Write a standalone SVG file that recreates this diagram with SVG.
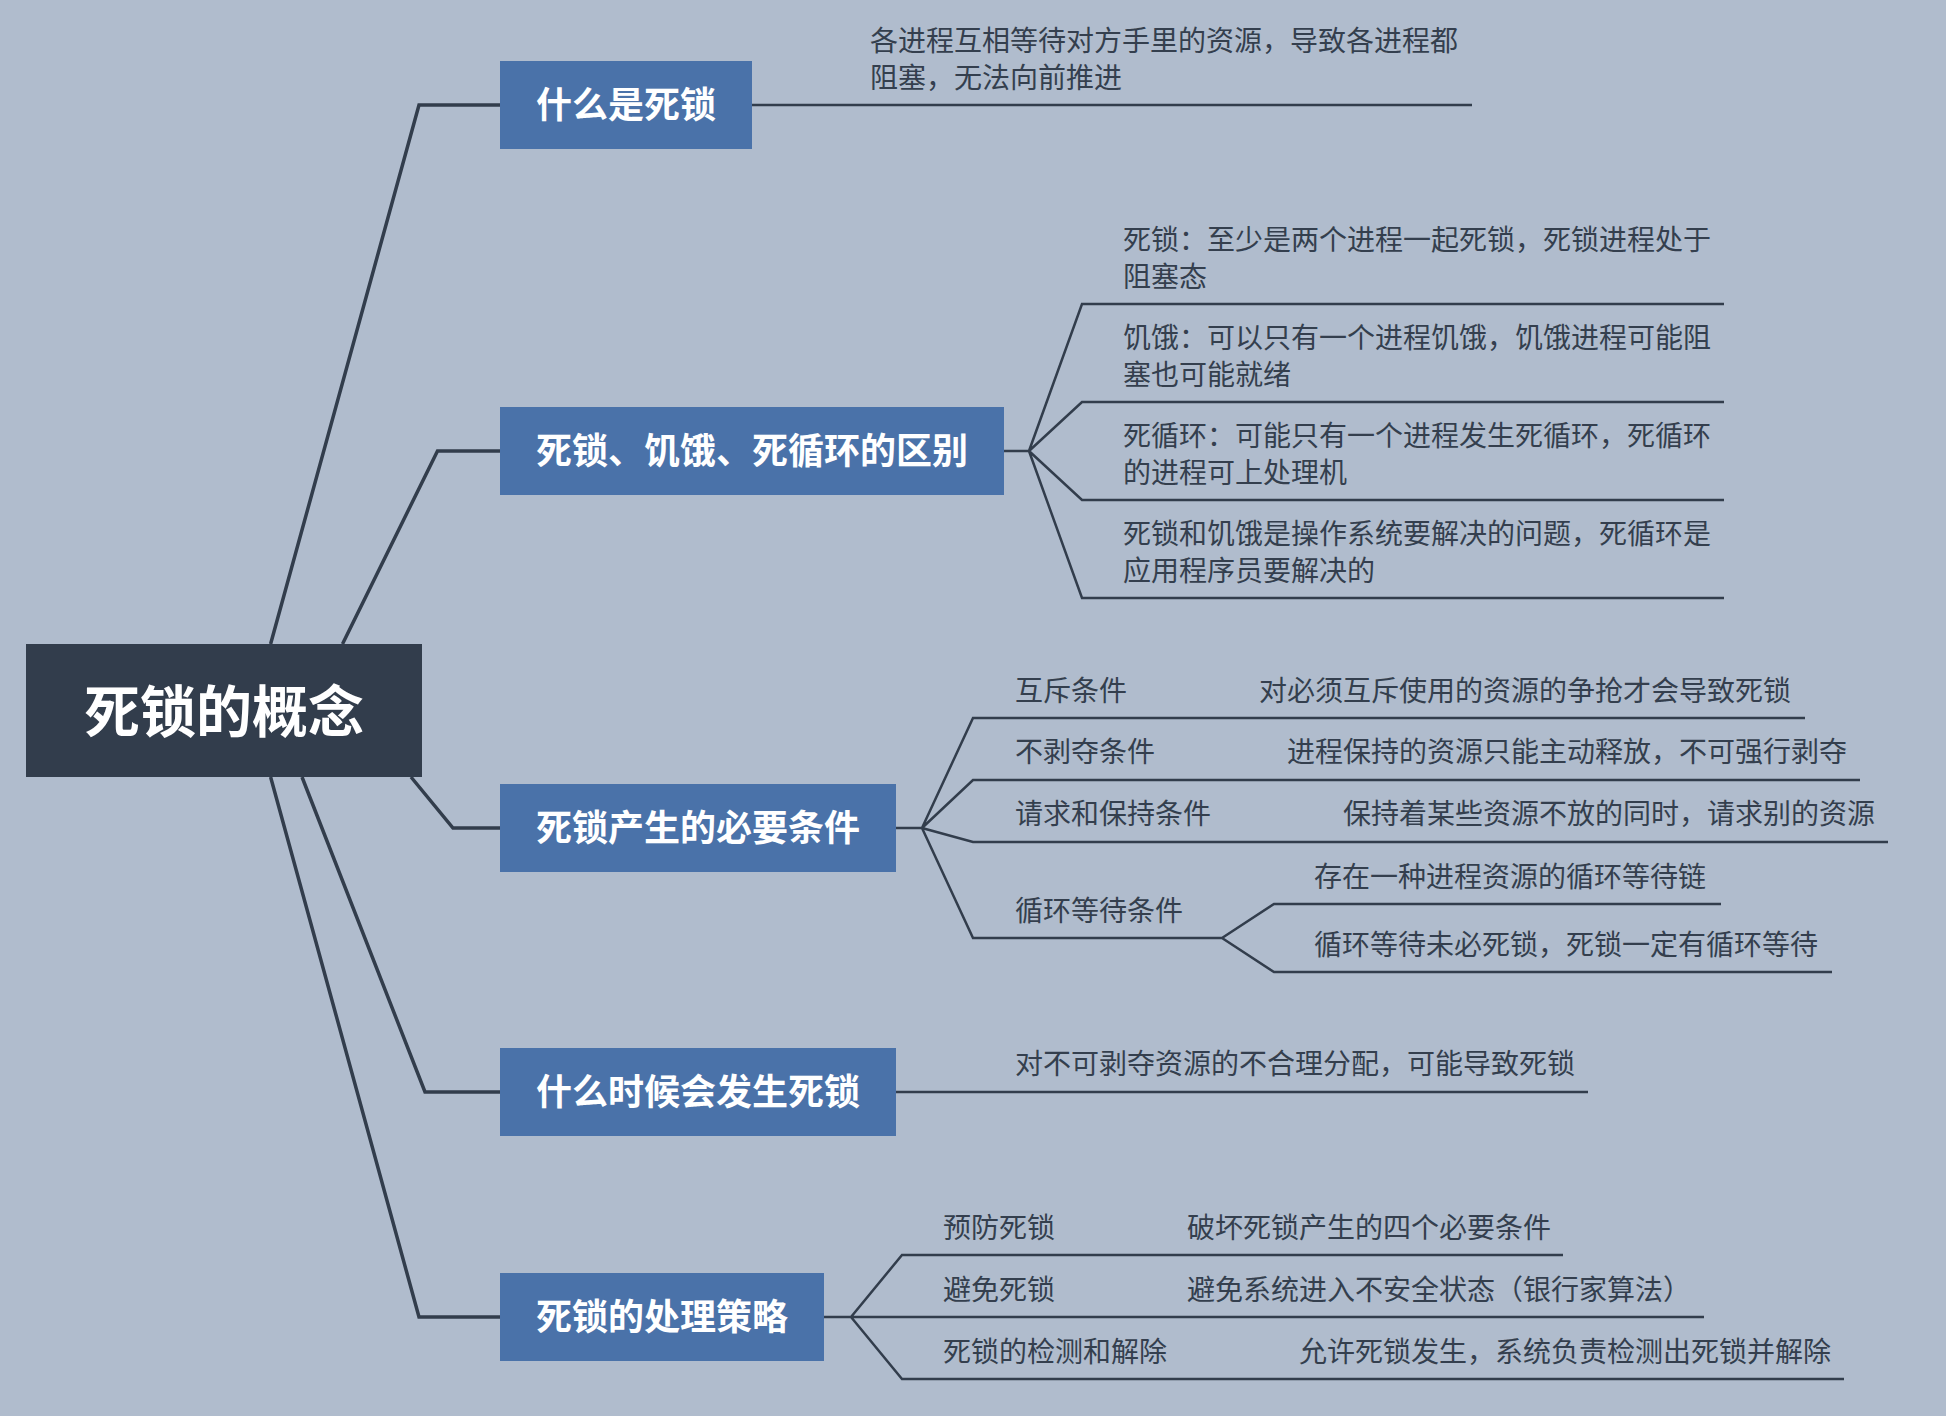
<svg xmlns="http://www.w3.org/2000/svg" width="1946" height="1416" viewBox="0 0 1946 1416">
<style>
.bg{fill:#b0bccd}
.root rect{fill:#323d4c}
.topic rect{fill:#4a72a9}
.rt{font-family:"Noto Sans CJK SC","Noto Sans",sans-serif;font-size:56px;font-weight:bold;fill:#ffffff;dominant-baseline:central}
.tt{font-family:"Noto Sans CJK SC","Noto Sans",sans-serif;font-size:36px;font-weight:bold;fill:#ffffff;dominant-baseline:central}
.st{font-family:"Noto Sans CJK SC","Noto Sans",sans-serif;font-size:28px;fill:#343f4e;dominant-baseline:central}
.main{fill:none;stroke:#323d4c;stroke-width:3.5;stroke-linejoin:miter}
.sub{fill:none;stroke:#323d4c;stroke-width:2.5}
</style>
<rect class="bg" x="0" y="0" width="1946" height="1416"/>
<g id="connectors">
<path class="main" d="M270.6,644 L419,105 L500,105"/>
<path class="main" d="M342.5,644 L437.5,451 L500,451"/>
<path class="main" d="M411,777 L453,828 L500,828"/>
<path class="main" d="M302,777 L425,1092 L500,1092"/>
<path class="main" d="M270.6,777 L419,1317 L500,1317"/>
<path class="sub" d="M751,105 L1472,105"/>
<path class="sub" d="M1003,451 L1029,451 M1029,451 L1082,304 L1724,304 M1029,451 L1082,402 L1724,402 M1029,451 L1082,500 L1724,500 M1029,451 L1082,598 L1724,598"/>
<path class="sub" d="M896,828 L922,828 M922,828 L973,718 L1805,718 M922,828 L973,780 L1860,780 M922,828 L973,842 L1888,842 M922,828 L973,938 L1222,938 M1222,938 L1274,904 L1721,904 M1222,938 L1274,972 L1832,972"/>
<path class="sub" d="M896,1092 L1588,1092"/>
<path class="sub" d="M824,1317 L851,1317 M851,1317 L902,1255 L1563,1255 M851,1317 L1704,1317 M851,1317 L902,1379 L1844,1379"/>
</g>
<g id="root" class="root">
<rect x="26" y="644" width="396" height="133"/>
<text class="rt" x="224" y="707" text-anchor="middle">死锁的概念</text>
</g>
<g id="t1" class="topic">
<rect x="500" y="61" width="252" height="88"/>
<text class="tt" x="536" y="102">什么是死锁</text>
</g>
<g id="t2" class="topic">
<rect x="500" y="407" width="504" height="88"/>
<text class="tt" x="536" y="448">死锁、饥饿、死循环的区别</text>
</g>
<g id="t3" class="topic">
<rect x="500" y="784" width="396" height="88"/>
<text class="tt" x="536" y="825">死锁产生的必要条件</text>
</g>
<g id="t4" class="topic">
<rect x="500" y="1048" width="396" height="88"/>
<text class="tt" x="536" y="1089">什么时候会发生死锁</text>
</g>
<g id="t5" class="topic">
<rect x="500" y="1273" width="324" height="88"/>
<text class="tt" x="536" y="1314">死锁的处理策略</text>
</g>
<g id="s1-1"><text class="st" x="870" y="39">各进程互相等待对方手里的资源，导致各进程都</text><text class="st" x="870" y="76">阻塞，无法向前推进</text></g>
<g id="s2-1"><text class="st" x="1123" y="238">死锁：至少是两个进程一起死锁，死锁进程处于</text><text class="st" x="1123" y="275">阻塞态</text></g>
<g id="s2-2"><text class="st" x="1123" y="336">饥饿：可以只有一个进程饥饿，饥饿进程可能阻</text><text class="st" x="1123" y="373">塞也可能就绪</text></g>
<g id="s2-3"><text class="st" x="1123" y="434">死循环：可能只有一个进程发生死循环，死循环</text><text class="st" x="1123" y="471">的进程可上处理机</text></g>
<g id="s2-4"><text class="st" x="1123" y="532">死锁和饥饿是操作系统要解决的问题，死循环是</text><text class="st" x="1123" y="569">应用程序员要解决的</text></g>
<g id="s3-1"><text class="st" x="1015" y="689">互斥条件</text></g>
<g id="s3-1a"><text class="st" x="1259" y="689">对必须互斥使用的资源的争抢才会导致死锁</text></g>
<g id="s3-2"><text class="st" x="1015" y="750">不剥夺条件</text></g>
<g id="s3-2a"><text class="st" x="1287" y="750">进程保持的资源只能主动释放，不可强行剥夺</text></g>
<g id="s3-3"><text class="st" x="1015" y="812">请求和保持条件</text></g>
<g id="s3-3a"><text class="st" x="1343" y="812">保持着某些资源不放的同时，请求别的资源</text></g>
<g id="s3-4"><text class="st" x="1015" y="909">循环等待条件</text></g>
<g id="s3-4a"><text class="st" x="1314" y="875">存在一种进程资源的循环等待链</text></g>
<g id="s3-4b"><text class="st" x="1314" y="943">循环等待未必死锁，死锁一定有循环等待</text></g>
<g id="s4-1"><text class="st" x="1015" y="1062">对不可剥夺资源的不合理分配，可能导致死锁</text></g>
<g id="s5-1"><text class="st" x="943" y="1226">预防死锁</text></g>
<g id="s5-1a"><text class="st" x="1187" y="1226">破坏死锁产生的四个必要条件</text></g>
<g id="s5-2"><text class="st" x="943" y="1288">避免死锁</text></g>
<g id="s5-2a"><text class="st" x="1187" y="1288">避免系统进入不安全状态（银行家算法）</text></g>
<g id="s5-3"><text class="st" x="943" y="1350">死锁的检测和解除</text></g>
<g id="s5-3a"><text class="st" x="1299" y="1350">允许死锁发生，系统负责检测出死锁并解除</text></g>
</svg>
